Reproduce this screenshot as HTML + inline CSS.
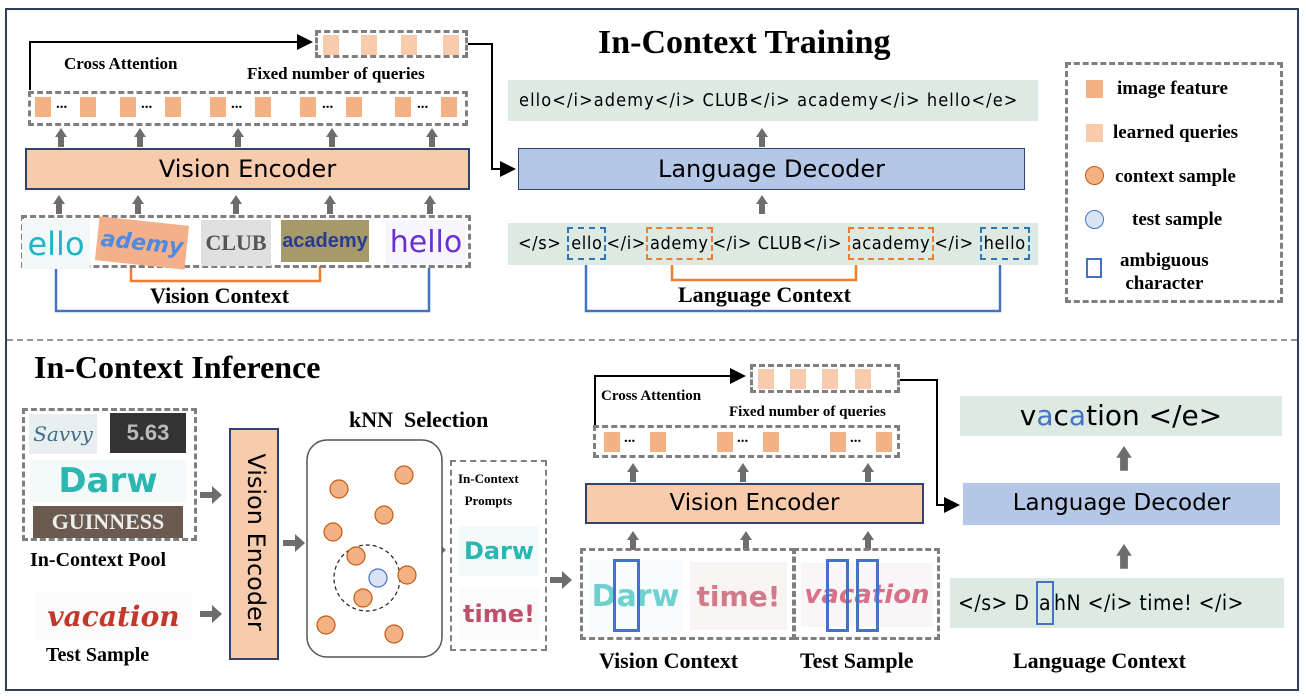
<!DOCTYPE html>
<html><head><meta charset="utf-8"><style>
*{margin:0;padding:0;box-sizing:border-box}
body{width:1306px;height:696px;background:#fff;position:relative;overflow:hidden;font-family:"Liberation Serif",serif}
.a{position:absolute}
.b{font-weight:bold}
.dash{position:absolute;border:3px dashed #7f7f7f}
.sq{position:absolute;background:#f4b183;width:16px;height:20px}
.lq{position:absolute;background:#f8cbad;width:16px;height:20px}
.dots{position:absolute;font:bold 15px "Liberation Serif",serif}
.enc{position:absolute;background:#f8cbad;border:2px solid #2f4370;font-family:"DejaVu Sans",sans-serif;text-align:center}
.dec{position:absolute;background:#b4c7e7;border:1px solid #2f4370;font-family:"DejaVu Sans",sans-serif;text-align:center}
.tb{position:absolute;background:#dceae3;font-family:"DejaVu Sans Condensed","DejaVu Sans",sans-serif;white-space:nowrap}
.img{position:absolute;overflow:hidden;display:flex;align-items:center;justify-content:center;white-space:nowrap}
.lbl{position:absolute;font-weight:bold;text-align:center;white-space:nowrap}
.db{border:2px dashed #2e75b6;padding:4px 2px}
.do{border:2px dashed #ed7d31;padding:4px 2px}
</style></head><body>
<div class="a" style="left:5px;top:8px;width:1294px;height:683px;border:2px solid #2f3f5f"></div>
<div class="a" style="left:7px;top:339px;width:1290px;border-top:2px dashed #999"></div>

<svg class="a" style="left:0;top:0" width="1306" height="696">
<defs>
<marker id="ab" markerWidth="8" markerHeight="8" refX="7" refY="4" orient="auto"><path d="M0,0L8,4L0,8z" fill="#000"/></marker>
<g id="ga"><path d="M-6,-8 L0,-17 L6,-8 L3,-8 L3,2 L-3,2 L-3,-8z" fill="#6d6d6d"/></g>
</defs>
<polyline points="30,90 30,42 311,42" fill="none" stroke="#000" stroke-width="2" marker-end="url(#ab)"/>
<polyline points="468,44 492,44 492,169 514,169" fill="none" stroke="#000" stroke-width="2" marker-end="url(#ab)"/>
<g transform="translate(61,145)"><use href="#ga"/></g>
<g transform="translate(140,145)"><use href="#ga"/></g>
<g transform="translate(238,145)"><use href="#ga"/></g>
<g transform="translate(332,145)"><use href="#ga"/></g>
<g transform="translate(432,145)"><use href="#ga"/></g>
<g transform="translate(59,212)"><use href="#ga"/></g>
<g transform="translate(138,212)"><use href="#ga"/></g>
<g transform="translate(236,212)"><use href="#ga"/></g>
<g transform="translate(330,212)"><use href="#ga"/></g>
<g transform="translate(430,212)"><use href="#ga"/></g>
<g transform="translate(762,145)"><use href="#ga"/></g>
<g transform="translate(762,212)"><use href="#ga"/></g>
<polyline points="131,266 131,281 320,281 320,266" fill="none" stroke="#ed7d31" stroke-width="2.5"/>
<polyline points="56,268 56,311 429,311 429,268" fill="none" stroke="#4472c4" stroke-width="2.5"/>
<polyline points="672,265 672,280 856,280 856,265" fill="none" stroke="#ed7d31" stroke-width="2.5"/>
<polyline points="586,265 586,311 1000,311 1000,265" fill="none" stroke="#4472c4" stroke-width="2.5"/>
<polyline points="595,425 595,376 744,376" fill="none" stroke="#000" stroke-width="2" marker-end="url(#ab)"/>
<polyline points="900,380 937,380 937,505 958,505" fill="none" stroke="#000" stroke-width="2" marker-end="url(#ab)"/>
<g transform="translate(633,480)"><use href="#ga"/></g>
<g transform="translate(743,480)"><use href="#ga"/></g>
<g transform="translate(868,480)"><use href="#ga"/></g>
<g transform="translate(633,548)"><use href="#ga"/></g>
<g transform="translate(746,548)"><use href="#ga"/></g>
<g transform="translate(868,548)"><use href="#ga"/></g>
<g transform="translate(1124,446) scale(1.3)"><use href="#ga" transform="translate(0,17)"/></g>
<g transform="translate(1124,544) scale(1.3)"><use href="#ga" transform="translate(0,17)"/></g>
<g fill="#6d6d6d">
<path d="M200,492h12v-6l10,9l-10,9v-6h-12z"/>
<path d="M200,611h12v-6l10,9l-10,9v-6h-12z"/>
<path d="M283,540h12v-6l10,9l-10,9v-6h-12z"/>
<path d="M424,547h12v-6l10,9l-10,9v-6h-12z"/>
<path d="M550,577h12v-6l10,9l-10,9v-6h-12z"/>
</g>
<rect x="307" y="440" width="135" height="217" rx="20" fill="#fff" stroke="#555" stroke-width="1.5"/>
<circle cx="367" cy="578" r="33" fill="none" stroke="#222" stroke-width="1.2" stroke-dasharray="4,3"/>
<g fill="#f4b183" stroke="#c55a11" stroke-width="1.2">
<circle cx="339" cy="489" r="9"/><circle cx="404" cy="475" r="9"/><circle cx="384" cy="515" r="9"/>
<circle cx="333" cy="532" r="9"/><circle cx="356" cy="556" r="9"/><circle cx="363" cy="598" r="9"/>
<circle cx="407" cy="575" r="9"/><circle cx="326" cy="625" r="9"/><circle cx="394" cy="634" r="9"/>
</g>
<circle cx="378" cy="578" r="9" fill="#dae3f3" stroke="#4472c4" stroke-width="1.2"/>
</svg>

<!-- TOP -->
<div class="dash" style="left:315px;top:30px;width:153px;height:28px"></div>
<div class="lq" style="left:323px;top:35px"></div><div class="lq" style="left:361px;top:35px"></div><div class="lq" style="left:401px;top:35px"></div><div class="lq" style="left:443px;top:35px"></div>
<div class="lbl" style="left:64px;top:54px;font-size:17px">Cross Attention</div>
<div class="lbl" style="left:247px;top:64px;font-size:17px">Fixed number of queries</div>
<div class="dash" style="left:28px;top:91px;width:440px;height:35px"></div>
<div class="sq" style="left:35px;top:97px"></div><div class="dots" style="left:56px;top:96px">...</div><div class="sq" style="left:80px;top:97px"></div>
<div class="sq" style="left:120px;top:97px"></div><div class="dots" style="left:141px;top:96px">...</div><div class="sq" style="left:165px;top:97px"></div>
<div class="sq" style="left:210px;top:97px"></div><div class="dots" style="left:231px;top:96px">...</div><div class="sq" style="left:255px;top:97px"></div>
<div class="sq" style="left:300px;top:97px"></div><div class="dots" style="left:322px;top:96px">...</div><div class="sq" style="left:346px;top:97px"></div>
<div class="sq" style="left:395px;top:97px"></div><div class="dots" style="left:417px;top:96px">...</div><div class="sq" style="left:441px;top:97px"></div>
<div class="enc" style="left:25px;top:148px;width:445px;height:42px;font-size:24px;line-height:38px">Vision Encoder</div>
<div class="dash" style="left:21px;top:215px;width:450px;height:53px"></div>
<div class="img" style="left:22px;top:219px;width:68px;height:50px;background:#f2f7f8;color:#1fb5c8;font:32px 'DejaVu Sans',sans-serif">ello</div>
<div class="img" style="left:97px;top:221px;width:90px;height:44px;background:#f3b08a;color:#4e8ae0;font:bold italic 22px 'DejaVu Sans',sans-serif;transform:rotate(6deg)">ademy</div>
<div class="img" style="left:201px;top:220px;width:70px;height:46px;background:#e0e0e0;color:#555;font:bold 22px 'Liberation Serif',serif">CLUB</div>
<div class="img" style="left:281px;top:220px;width:88px;height:42px;background:#a69a6a;color:#2a3a8f;font:bold 20px 'Liberation Sans Narrow','Liberation Sans',sans-serif">academy</div>
<div class="img" style="left:386px;top:220px;width:80px;height:44px;background:#f7f6fc;color:#6a2fd4;font:30px 'DejaVu Sans',sans-serif">hello</div>
<div class="lbl" style="left:150px;top:283px;font-size:22px">Vision Context</div>

<div class="lbl" style="left:598px;top:24px;font-size:34px">In-Context Training</div>
<div class="tb" style="left:508px;top:80px;width:530px;height:41px;font-size:18px;line-height:41px;padding-left:11px;letter-spacing:1.1px">ello&lt;/i&gt;ademy&lt;/i&gt; CLUB&lt;/i&gt; academy&lt;/i&gt; hello&lt;/e&gt;</div>
<div class="dec" style="left:518px;top:148px;width:507px;height:42px;font-size:24px;line-height:40px">Language Decoder</div>
<div class="tb" style="left:508px;top:223px;width:530px;height:42px;font-size:18px;line-height:42px;padding-left:10px;letter-spacing:0.6px">&lt;/s&gt; <span class="db">ello</span>&lt;/i&gt;<span class="do">ademy</span>&lt;/i&gt; CLUB&lt;/i&gt; <span class="do">academy</span>&lt;/i&gt; <span class="db">hello</span></div>
<div class="lbl" style="left:678px;top:282px;font-size:22px">Language Context</div>

<div class="dash" style="left:1065px;top:62px;width:218px;height:241px"></div>
<div class="sq" style="left:1086px;top:80px;width:17px;height:18px"></div><div class="lbl" style="left:1117px;top:78px;font-size:19px">image feature</div>
<div class="lq" style="left:1086px;top:124px;width:17px;height:18px"></div><div class="lbl" style="left:1113px;top:122px;font-size:19px">learned queries</div>
<div class="a" style="left:1085px;top:166px;width:19px;height:19px;border-radius:50%;background:#f4b183;border:1.5px solid #c55a11"></div><div class="lbl" style="left:1115px;top:166px;font-size:19px">context sample</div>
<div class="a" style="left:1085px;top:210px;width:19px;height:19px;border-radius:50%;background:#dae3f3;border:1.5px solid #4472c4"></div><div class="lbl" style="left:1132px;top:209px;font-size:19px">test sample</div>
<div class="a" style="left:1086px;top:258px;width:16px;height:20px;border:2.5px solid #4472c4"></div>
<div class="lbl" style="left:1120px;top:249px;font-size:19px;line-height:23px">ambiguous<br>character</div>

<!-- BOTTOM -->
<div class="lbl" style="left:34px;top:349px;font-size:32px">In-Context Inference</div>
<div class="dash" style="left:22px;top:408px;width:175px;height:133px"></div>
<div class="img" style="left:29px;top:414px;width:68px;height:40px;background:#e9eef0;color:#3e6f8a;font:italic 20px 'DejaVu Serif',serif">Savvy</div>
<div class="img" style="left:110px;top:413px;width:76px;height:40px;background:#333;color:#bbb;font:bold 22px 'Liberation Sans',sans-serif">5.63</div>
<div class="img" style="left:30px;top:460px;width:156px;height:42px;background:#f4fafa;color:#2bb6b0;font:bold 34px 'DejaVu Sans',sans-serif">Darw</div>
<div class="img" style="left:33px;top:506px;width:150px;height:32px;background:#6b5a50;color:#eee;font:bold 22px 'Liberation Serif',serif">GUINNESS</div>
<div class="lbl" style="left:30px;top:549px;font-size:20px">In-Context Pool</div>
<div class="img" style="left:35px;top:592px;width:157px;height:48px;background:#fbfbfb;color:#c0392b;font:italic bold 28px 'DejaVu Serif',serif">vacation</div>
<div class="lbl" style="left:46px;top:644px;font-size:20px">Test Sample</div>
<div class="enc" style="left:229px;top:428px;width:50px;height:232px"><div class="a" style="left:-90px;top:98px;width:230px;font-size:24px;transform:rotate(90deg)">Vision Encoder</div></div>
<div class="lbl" style="left:349px;top:407px;font-size:22px">kNN&nbsp; Selection</div>
<div class="dash" style="left:450px;top:460px;width:97px;height:191px;border-width:2px"></div>
<div class="lbl" style="left:458px;top:468px;font-size:13px;line-height:22px">In-Context<br>Prompts</div>
<div class="img" style="left:459px;top:526px;width:80px;height:50px;background:#f4fafa;color:#2bb6b0;font:bold 24px 'DejaVu Sans',sans-serif">Darw</div>
<div class="img" style="left:459px;top:588px;width:80px;height:52px;background:#fbfbfb;color:#c0506a;font:bold 24px 'DejaVu Sans',sans-serif">time!</div>

<div class="dash" style="left:750px;top:364px;width:150px;height:29px"></div>
<div class="lq" style="left:758px;top:369px"></div><div class="lq" style="left:790px;top:369px"></div><div class="lq" style="left:822px;top:369px"></div><div class="lq" style="left:855px;top:369px"></div>
<div class="lbl" style="left:601px;top:388px;font-size:15px">Cross Attention</div>
<div class="lbl" style="left:729px;top:404px;font-size:15px">Fixed number of queries</div>
<div class="dash" style="left:593px;top:425px;width:307px;height:33px"></div>
<div class="sq" style="left:604px;top:432px"></div><div class="dots" style="left:624px;top:430px">...</div><div class="sq" style="left:650px;top:432px"></div>
<div class="sq" style="left:717px;top:432px"></div><div class="dots" style="left:737px;top:430px">...</div><div class="sq" style="left:763px;top:432px"></div>
<div class="sq" style="left:830px;top:432px"></div><div class="dots" style="left:850px;top:430px">...</div><div class="sq" style="left:876px;top:432px"></div>
<div class="enc" style="left:585px;top:483px;width:339px;height:41px;font-size:23px;line-height:37px">Vision Encoder</div>
<div class="dash" style="left:580px;top:548px;width:215px;height:92px"></div>
<div class="dash" style="left:793px;top:548px;width:147px;height:92px"></div>
<div class="img" style="left:588px;top:560px;width:95px;height:72px;background:#f7fbfb;color:#6fd0d0;font:bold 30px 'DejaVu Sans',sans-serif">Darw</div>
<div class="img" style="left:690px;top:562px;width:97px;height:68px;background:#f8f4f4;color:#d07a8a;font:bold 28px 'DejaVu Sans',sans-serif">time!</div>
<div class="img" style="left:801px;top:563px;width:132px;height:64px;background:#f8f6f7;color:#d8708a;font:bold italic 26px 'DejaVu Sans',sans-serif">vacation</div>
<div class="a" style="left:613px;top:559px;width:27px;height:73px;border:3px solid #4472c4"></div>
<div class="a" style="left:826px;top:559px;width:23px;height:73px;border:3px solid #4472c4"></div>
<div class="a" style="left:856px;top:559px;width:23px;height:73px;border:3px solid #4472c4"></div>
<div class="lbl" style="left:599px;top:648px;font-size:22px">Vision Context</div>
<div class="lbl" style="left:800px;top:648px;font-size:22px">Test Sample</div>

<div class="tb" style="left:960px;top:396px;width:322px;height:40px;font-size:28px;line-height:40px;text-align:center;font-family:'DejaVu Sans',sans-serif">v<span style="color:#4472c4">a</span>c<span style="color:#4472c4">a</span>tion &lt;/e&gt;</div>
<div class="dec" style="left:963px;top:483px;width:317px;height:42px;font-size:23px;line-height:41px;border:none">Language Decoder</div>
<div class="tb" style="left:950px;top:578px;width:334px;height:50px;font-size:21px;line-height:50px;padding-left:8px;letter-spacing:0.5px">&lt;/s&gt; D <span style="border:2px solid #4472c4;padding:8px 1px">a</span>hN &lt;/i&gt; time! &lt;/i&gt;</div>
<div class="lbl" style="left:1013px;top:648px;font-size:22px">Language Context</div>
</body></html>
